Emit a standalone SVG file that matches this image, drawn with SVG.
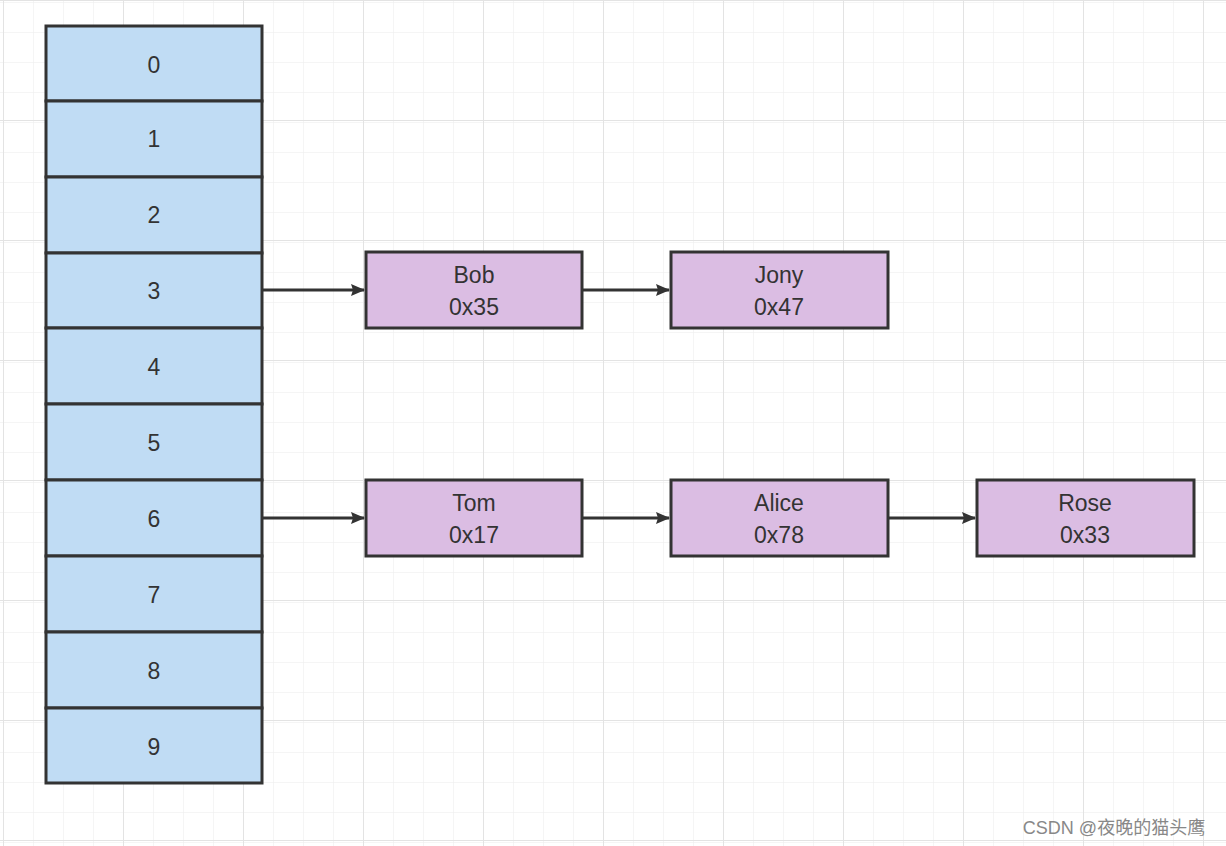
<svg xmlns="http://www.w3.org/2000/svg" width="1226" height="846" viewBox="0 0 1226 846">
<defs>
<pattern id="minor" x="3" y="2" width="30" height="30" patternUnits="userSpaceOnUse"><path d="M0 0H30M0 0V30" fill="none" stroke="#ececec" stroke-width="1"/></pattern>
<pattern id="major" x="3" y="0" width="120" height="120" patternUnits="userSpaceOnUse"><path d="M0 0H120M0 0V120" fill="none" stroke="#e3e3e3" stroke-width="2"/></pattern>
<marker id="arr" markerWidth="14" markerHeight="12" refX="13" refY="6" orient="auto" markerUnits="userSpaceOnUse"><path d="M0 0L14 6L0 12L2 6Z" fill="#333"/></marker>
<style>
.cell{fill:#c0dcf4;stroke:#333;stroke-width:3}
.node{fill:#dbbde3;stroke:#333;stroke-width:3}
text{font-family:"Liberation Sans",Arial,sans-serif;font-size:23px;fill:#333;text-anchor:middle}
.c{stroke:#333;stroke-width:3;fill:none;marker-end:url(#arr)}
</style>
</defs>
<rect width="1226" height="846" fill="#fff"/>
<rect width="1226" height="846" fill="url(#minor)"/>
<rect width="1226" height="846" fill="url(#major)"/>
<g id="array">
<g id="cell0"><rect class="cell" x="46" y="26" width="216" height="75"/><text x="154" y="73">0</text></g>
<g id="cell1"><rect class="cell" x="46" y="101" width="216" height="76"/><text x="154" y="147">1</text></g>
<g id="cell2"><rect class="cell" x="46" y="177" width="216" height="76"/><text x="154" y="223">2</text></g>
<g id="cell3"><rect class="cell" x="46" y="253" width="216" height="75"/><text x="154" y="299">3</text></g>
<g id="cell4"><rect class="cell" x="46" y="328" width="216" height="76"/><text x="154" y="375">4</text></g>
<g id="cell5"><rect class="cell" x="46" y="404" width="216" height="76"/><text x="154" y="451">5</text></g>
<g id="cell6"><rect class="cell" x="46" y="480" width="216" height="76"/><text x="154" y="527">6</text></g>
<g id="cell7"><rect class="cell" x="46" y="556" width="216" height="76"/><text x="154" y="603">7</text></g>
<g id="cell8"><rect class="cell" x="46" y="632" width="216" height="76"/><text x="154" y="679">8</text></g>
<g id="cell9"><rect class="cell" x="46" y="708" width="216" height="75"/><text x="154" y="755">9</text></g>
</g>
<g id="connectors">
<path class="c" d="M262 290H364"/>
<path class="c" d="M582 290H669"/>
<path class="c" d="M262 518H364"/>
<path class="c" d="M582 518H669"/>
<path class="c" d="M888 518H975"/>
</g>
<g id="bob"><rect class="node" x="366" y="252" width="216" height="76"/><text x="474" y="283">Bob</text><text x="474" y="315">0x35</text></g>
<g id="jony"><rect class="node" x="671" y="252" width="217" height="76"/><text x="779" y="283">Jony</text><text x="779" y="315">0x47</text></g>
<g id="tom"><rect class="node" x="366" y="480" width="216" height="76"/><text x="474" y="511">Tom</text><text x="474" y="543">0x17</text></g>
<g id="alice"><rect class="node" x="671" y="480" width="217" height="76"/><text x="779" y="511">Alice</text><text x="779" y="543">0x78</text></g>
<g id="rose"><rect class="node" x="977" y="480" width="217" height="76"/><text x="1085" y="511">Rose</text><text x="1085" y="543">0x33</text></g>
<text x="1114" y="834" style="font-size:18px;fill:#888;font-family:'Liberation Sans','Noto Sans CJK SC',sans-serif">CSDN @夜晚的猫头鹰</text>
</svg>
